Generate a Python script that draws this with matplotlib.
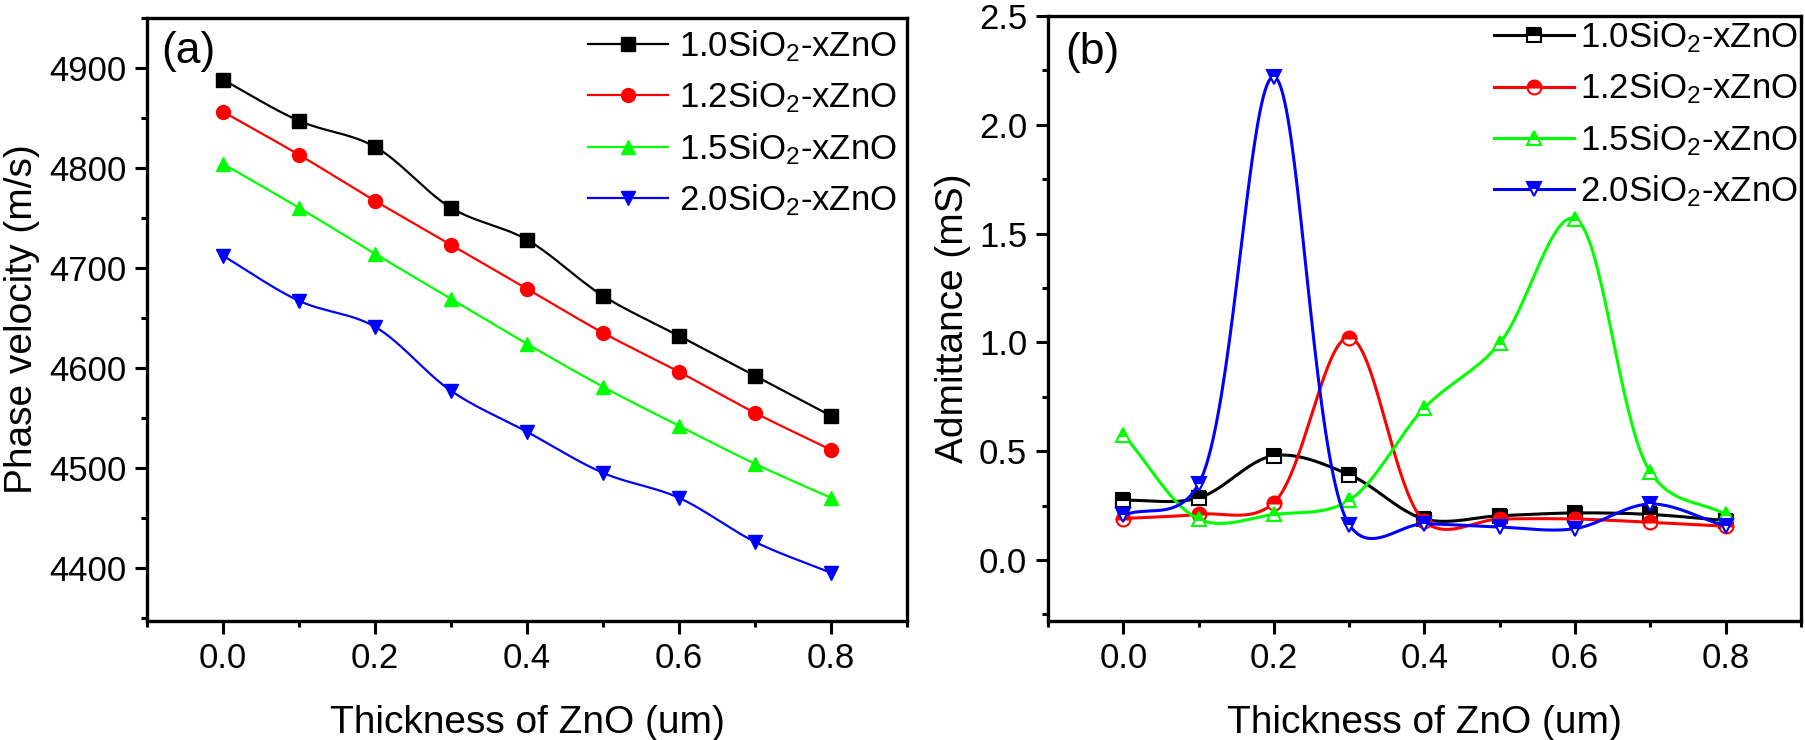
import numpy as np
import matplotlib.pyplot as plt
from matplotlib.ticker import MultipleLocator, FormatStrFormatter

plt.rcParams['font.family'] = 'Liberation Sans'
plt.rcParams['mathtext.fontset'] = 'custom'
plt.rcParams['mathtext.rm'] = 'Liberation Sans'
plt.rcParams['mathtext.it'] = 'Liberation Sans:italic'

# data
thickness = [0.0, 0.1, 0.2, 0.3, 0.4, 0.5, 0.6, 0.7, 0.8]
labels = ['1.0SiO$_2$-xZnO', '1.2SiO$_2$-xZnO', '1.5SiO$_2$-xZnO', '2.0SiO$_2$-xZnO']

vel_10 = [4888, 4847, 4821, 4760, 4728, 4672, 4632, 4592, 4552]
vel_12 = [4856, 4813, 4767, 4723, 4679, 4635, 4596, 4555, 4518]
vel_15 = [4804, 4760, 4714, 4669, 4624, 4581, 4542, 4504, 4470]
vel_20 = [4712, 4667, 4641, 4577, 4536, 4495, 4470, 4426, 4395]

adm_10 = [0.274, 0.285, 0.479, 0.392, 0.188, 0.203, 0.216, 0.209, 0.181]
adm_12 = [0.190, 0.210, 0.263, 1.022, 0.177, 0.188, 0.188, 0.173, 0.155]
adm_15 = [0.576, 0.188, 0.209, 0.274, 0.699, 0.996, 1.568, 0.403, 0.209]
adm_20 = [0.205, 0.349, 2.221, 0.162, 0.166, 0.151, 0.144, 0.257, 0.155]

colors = ['black', 'red', '#00ff00', 'blue']
markers = ['s', 'o', '^', 'v']


def smooth(x, y, sx, sy, n=40, alpha=0.3):
    # Catmull-Rom curve through the points, worked out in screen-like
    # units (sx, sy = pixels per data unit); drawing only
    P = np.column_stack([np.asarray(x, float) * sx, np.asarray(y, float) * sy])
    P = np.vstack([2 * P[0] - P[1], P, 2 * P[-1] - P[-2]])
    out = []
    for i in range(1, len(P) - 2):
        p0, p1, p2, p3 = P[i - 1], P[i], P[i + 1], P[i + 2]
        t0 = 0.0
        t1 = t0 + np.linalg.norm(p1 - p0) ** alpha
        t2 = t1 + np.linalg.norm(p2 - p1) ** alpha
        t3 = t2 + np.linalg.norm(p3 - p2) ** alpha
        t = np.linspace(t1, t2, n, endpoint=False)[:, None]
        a1 = (t1 - t) / (t1 - t0) * p0 + (t - t0) / (t1 - t0) * p1
        a2 = (t2 - t) / (t2 - t1) * p1 + (t - t1) / (t2 - t1) * p2
        a3 = (t3 - t) / (t3 - t2) * p2 + (t - t2) / (t3 - t2) * p3
        b1 = (t2 - t) / (t2 - t0) * a1 + (t - t0) / (t2 - t0) * a2
        b2 = (t3 - t) / (t3 - t1) * a2 + (t - t1) / (t3 - t1) * a3
        out.append((t2 - t) / (t2 - t1) * b1 + (t - t1) / (t2 - t1) * b2)
    out.append(P[-2][None, :])
    c = np.vstack(out)
    return c[:, 0] / sx, c[:, 1] / sy


def style_axes(ax):
    for sp in ax.spines.values():
        sp.set_linewidth(2.4)
    ax.tick_params(which='both', direction='out', width=2.2, labelsize=25,
                   top=False, right=False)
    ax.tick_params(which='major', length=9, pad=6)
    ax.tick_params(which='minor', length=4.5)
    ax.set_xlim(-0.1, 0.9)
    ax.xaxis.set_major_locator(MultipleLocator(0.2))
    ax.xaxis.set_minor_locator(MultipleLocator(0.1))
    ax.xaxis.set_major_formatter(FormatStrFormatter('%.1f'))
    ax.set_xlabel('Thickness of ZnO (um)', fontsize=28, labelpad=22)


fig = plt.figure(figsize=(18.06, 7.4), dpi=100)
ax1 = fig.add_axes([0.0814, 0.161, 0.4208, 0.815])
ax2 = fig.add_axes([0.5803, 0.161, 0.4169, 0.8175])

# (a) phase velocity
handles = []
for vals, c, mk in zip([vel_10, vel_12, vel_15, vel_20], colors, markers):
    sx, sy = smooth(thickness, vals, 760, 1.0)
    ln, = ax1.plot(sx, sy, color=c, lw=1.6)
    pt, = ax1.plot(thickness, vals, ls='none', marker=mk, color=c, ms=10)
    handles.append((ln, pt))
style_axes(ax1)
ax1.set_ylim(4347, 4950)
ax1.yaxis.set_major_locator(MultipleLocator(100))
ax1.yaxis.set_minor_locator(MultipleLocator(50))
ax1.set_ylabel('Phase velocity (m/s)', fontsize=28, labelpad=6)
ax1.text(0.019, 0.978, '(a)', transform=ax1.transAxes, fontsize=32, va='top')
ax1.legend(handles, labels, loc='upper right', bbox_to_anchor=(1.0, 1.0),
           frameon=False, fontsize=25, numpoints=1, handlelength=2.3,
           handletextpad=0.3, labelspacing=0.45, borderaxespad=0.1, borderpad=0.2)

# (b) admittance
handles = []
for vals, c, mk in zip([adm_10, adm_12, adm_15, adm_20], colors, markers):
    sx, sy = smooth(thickness, vals, 753, 218)
    ln, = ax2.plot(sx, sy, color=c, lw=2.2)
    pt, = ax2.plot(thickness, vals, ls='none', marker=mk, color=c, ms=10,
                   fillstyle='top', markerfacecoloralt='white', mew=1.5)
    handles.append((ln, pt))
style_axes(ax2)
ax2.set_ylim(-0.28, 2.5)
ax2.yaxis.set_major_locator(MultipleLocator(0.5))
ax2.yaxis.set_minor_locator(MultipleLocator(0.25))
ax2.yaxis.set_major_formatter(FormatStrFormatter('%.1f'))
ax2.set_ylabel('Admittance (mS)', fontsize=28, labelpad=6)
ax2.text(0.023, 0.973, '(b)', transform=ax2.transAxes, fontsize=32, va='top')
ax2.legend(handles, labels, loc='upper right', bbox_to_anchor=(1.0, 1.0),
           frameon=False, fontsize=25, numpoints=1, handlelength=2.3,
           handletextpad=0.15, labelspacing=0.45, borderaxespad=0.0, borderpad=0.1)

fig.savefig('out.png', dpi=100)
